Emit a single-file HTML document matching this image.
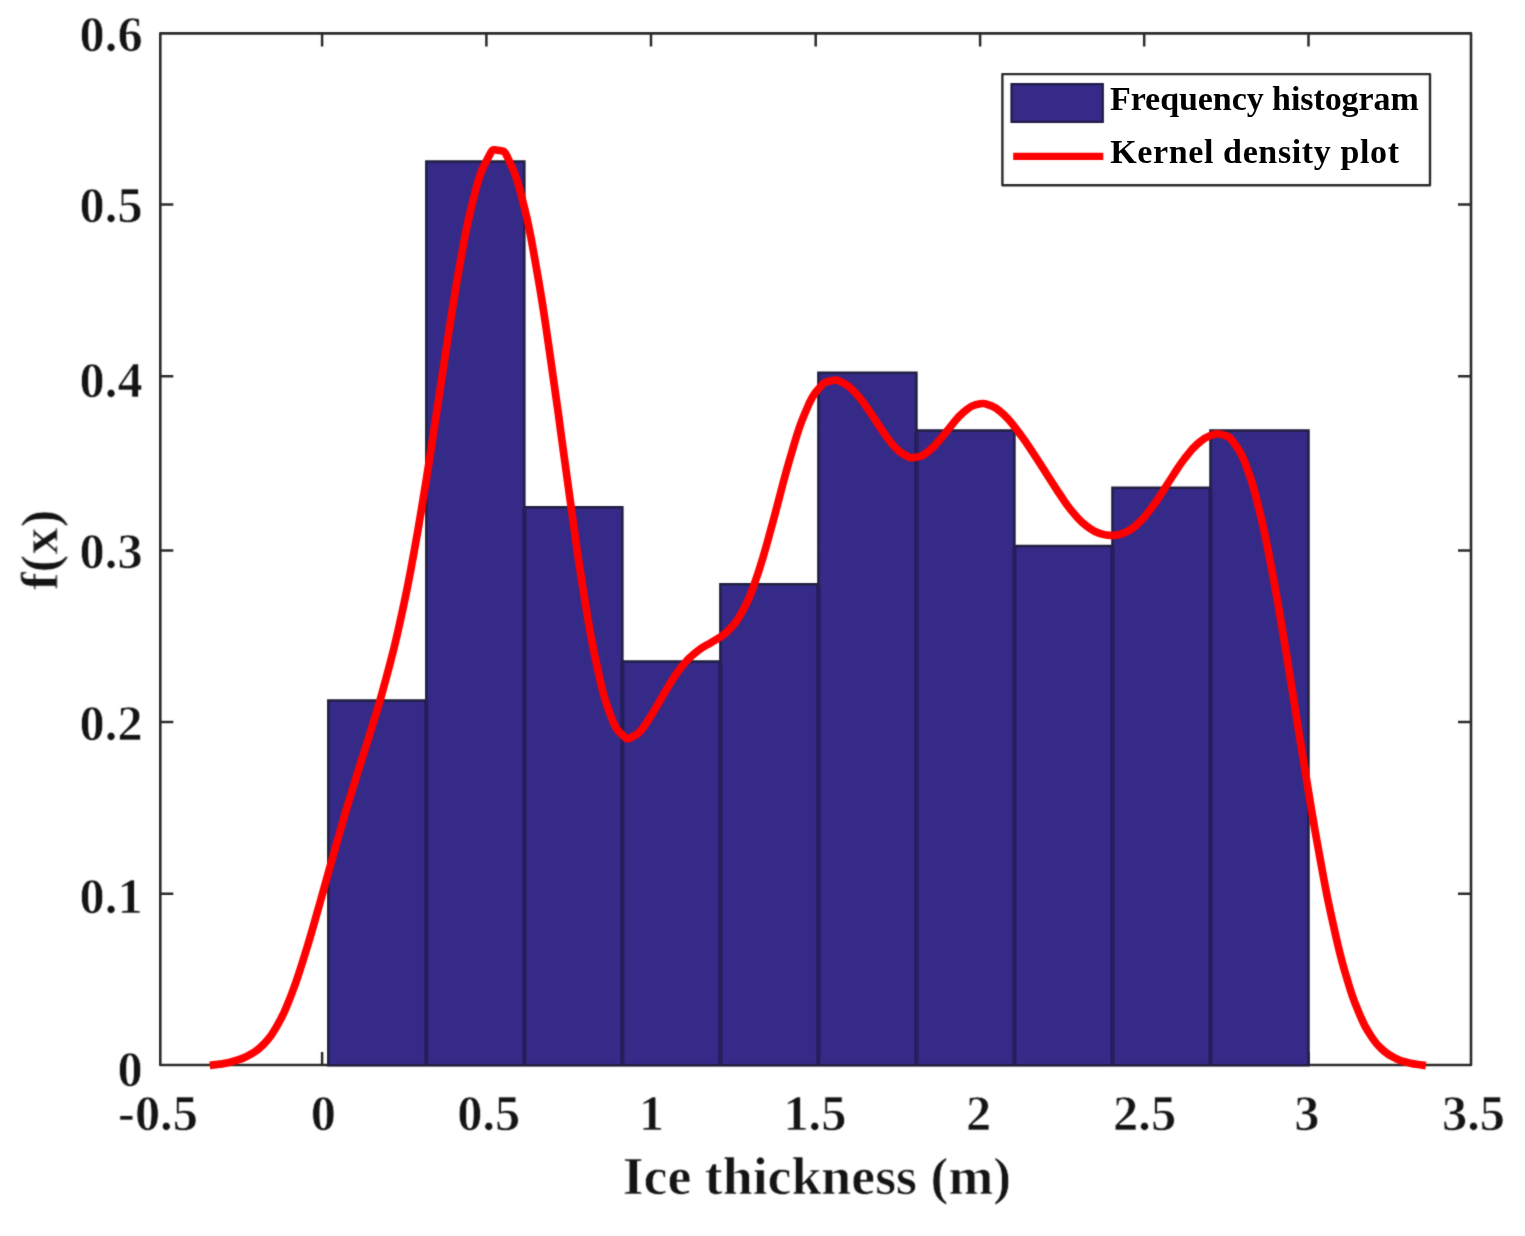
<!DOCTYPE html>
<html lang="en"><head><meta charset="utf-8"><title>Ice thickness: frequency histogram and kernel density plot</title>
<style>html,body{margin:0;padding:0;background:#fff;}body{width:1525px;height:1236px;overflow:hidden;}svg{display:block;}text{font-family:"Liberation Serif","Times New Roman",serif;font-weight:bold;}</style>
</head><body>
<svg width="1525" height="1236" viewBox="0 0 1525 1236" role="img" aria-label="Histogram of ice thickness with kernel density curve">
<defs>
<filter id="soft" x="0" y="0" width="1525" height="1236" filterUnits="userSpaceOnUse" color-interpolation-filters="sRGB"><feConvolveMatrix order="3" kernelMatrix="0.0367 0.1915 0.0367 0.1915 1 0.1915 0.0367 0.1915 0.0367" edgeMode="duplicate" preserveAlpha="false"/></filter>
<filter id="softtext" x="0" y="0" width="1525" height="1236" filterUnits="userSpaceOnUse" color-interpolation-filters="sRGB"><feConvolveMatrix order="3" kernelMatrix="0.1299 0.3604 0.1299 0.3604 1 0.3604 0.1299 0.3604 0.1299" edgeMode="duplicate" preserveAlpha="false"/></filter>
</defs>
<rect x="0" y="0" width="1525" height="1236" fill="#ffffff"/>
<g id="plot" filter="url(#soft)">
<rect x="0" y="0" width="1525" height="1236" fill="#ffffff"/>
<g id="axes" fill="none" stroke="#2b2b2b" stroke-linecap="butt">
<rect x="160.30" y="33.40" width="1310.70" height="1031.60" stroke-width="2.60" stroke-linejoin="round"/>
<path d="M322.10 33.40v13.00M322.10 1065.00v-13.00M486.40 33.40v13.00M486.40 1065.00v-13.00M651.00 33.40v13.00M651.00 1065.00v-13.00M815.70 33.40v13.00M815.70 1065.00v-13.00M980.10 33.40v13.00M980.10 1065.00v-13.00M1144.20 33.40v13.00M1144.20 1065.00v-13.00M1308.50 33.40v13.00M1308.50 1065.00v-13.00M160.30 893.65h13.00M1471.00 893.65h-13.00M160.30 722.10h13.00M1471.00 722.10h-13.00M160.30 550.50h13.00M1471.00 550.50h-13.00M160.30 376.20h13.00M1471.00 376.20h-13.00M160.30 204.60h13.00M1471.00 204.60h-13.00" stroke-width="2.50"/>
</g>
<g id="bars" fill="#352a87" stroke="none">
<rect x="328.10" y="700.50" width="98.42" height="365.30"/>
<rect x="426.12" y="161.40" width="98.42" height="904.40"/>
<rect x="524.14" y="507.20" width="98.42" height="558.60"/>
<rect x="622.16" y="661.60" width="98.42" height="404.20"/>
<rect x="720.18" y="584.30" width="98.42" height="481.50"/>
<rect x="818.20" y="372.70" width="98.42" height="693.10"/>
<rect x="916.22" y="430.60" width="98.42" height="635.20"/>
<rect x="1014.24" y="545.90" width="98.42" height="519.90"/>
<rect x="1112.26" y="487.80" width="98.42" height="578.00"/>
<rect x="1210.28" y="430.60" width="98.42" height="635.20"/>
</g>
<path id="dividers" d="M426.32 701.50V1065.30M524.34 508.20V1065.30M622.36 662.60V1065.30M720.38 662.60V1065.30M818.40 585.30V1065.30M916.42 431.60V1065.30M1014.44 546.90V1065.30M1112.46 546.90V1065.30M1210.48 488.80V1065.30" fill="none" stroke="#000000" stroke-opacity="0.36" stroke-width="3.90"/>
<path id="outline" d="M328.30 1065.20V700.50H426.32V161.40H524.34V507.20H622.36V661.60H720.38V584.30H818.40V372.70H916.42V430.60H1014.44V545.90H1112.46V487.80H1210.48V430.60H1308.50V1065.20H328.30Z" fill="none" stroke="#201f40" stroke-width="2.50" stroke-linejoin="miter"/>
<path id="kde" d="M209.8 1065.3L217.7 1064.4Q222.1 1063.9 226.5 1062.9L229.9 1062.2Q234.4 1061.3 238.8 1059.7L242.2 1058.5Q246.7 1056.9 251.1 1054.1L254.5 1052.0Q258.9 1049.2 263.4 1044.5L266.8 1040.8Q271.2 1036.0 275.6 1028.3L279.1 1022.2Q283.5 1014.5 287.9 1003.3L291.4 994.6Q295.8 983.4 300.2 969.4L303.6 958.6Q308.1 944.6 312.5 929.1L315.9 917.1Q320.4 901.6 324.8 885.6L328.2 873.2Q332.6 857.2 337.1 841.7L340.5 829.7Q344.9 814.2 349.3 799.7L352.8 788.4Q357.2 773.9 361.6 760.0L365.1 749.1Q369.5 735.2 373.9 720.6L377.4 709.3Q381.8 694.7 386.2 678.1L389.6 665.2Q394.1 648.7 398.5 628.9L401.9 613.4Q406.3 593.6 410.8 569.8L414.2 551.2Q418.6 527.4 423.0 499.8L426.5 478.3Q430.9 450.7 435.3 421.1L438.8 398.0Q443.2 368.4 447.6 339.7L451.1 317.4Q455.5 288.7 459.9 264.2L463.3 245.3Q467.8 220.9 472.2 203.7L475.6 190.3Q480.0 173.1 484.5 164.6L490.5 153.1Q492.3 149.5 494.2 149.8L502.8 151.0Q504.6 151.2 506.5 155.2L512.5 168.1Q516.9 177.6 521.3 195.4L524.8 209.3Q529.2 227.1 533.6 252.1L537.0 271.5Q541.5 296.4 545.9 326.5L549.3 349.9Q553.7 380.0 558.2 412.6L561.6 438.0Q566.0 470.6 570.5 502.5L573.9 527.2Q578.3 559.1 582.7 586.8L586.2 608.3Q590.6 636.0 595.0 656.8L598.5 673.0Q602.9 693.8 607.3 706.2L611.1 716.6Q615.2 728.1 619.3 732.0L625.6 737.9Q627.5 739.6 629.3 738.5L635.5 735.1Q639.7 732.7 644.0 726.5L647.6 721.2Q652.0 714.7 656.4 706.9L659.9 700.8Q664.3 692.9 668.7 685.7L672.2 680.1Q676.6 672.9 681.0 667.5L684.4 663.3Q688.9 657.9 693.3 654.4L696.7 651.7Q701.2 648.1 705.6 645.7L709.0 643.8Q713.4 641.4 717.9 638.6L721.3 636.4Q725.7 633.6 730.1 628.6L733.6 624.8Q738.0 619.9 742.4 611.3L745.9 604.6Q750.3 595.9 754.7 582.9L758.2 572.8Q762.6 559.7 767.0 543.6L770.4 531.0Q774.9 514.8 779.3 497.8L782.7 484.6Q787.1 467.7 791.6 452.8L795.0 441.3Q799.4 426.4 803.8 415.9L807.3 407.7Q811.7 397.2 816.1 391.8L821.3 385.6Q824.0 382.3 826.7 381.7L833.6 380.2Q836.3 379.6 839.0 380.9L844.1 383.4Q848.6 385.6 853.0 390.3L856.4 394.0Q860.8 398.7 865.3 405.1L868.7 410.1Q873.1 416.5 877.5 423.4L881.0 428.7Q885.4 435.6 889.8 441.1L893.3 445.4Q897.7 450.9 902.1 453.4L907.2 456.3Q910.0 457.9 912.8 457.6L918.7 456.8Q922.3 456.3 925.9 453.3L930.1 449.9Q934.5 446.3 939.0 440.8L942.4 436.6Q946.8 431.1 951.3 425.6L954.7 421.3Q959.1 415.9 963.5 412.2L967.2 409.2Q971.4 405.8 975.6 404.8L980.3 403.8Q983.7 403.0 987.1 404.3L991.5 405.9Q996.0 407.6 1000.4 411.6L1003.8 414.7Q1008.2 418.7 1012.7 424.4L1016.1 428.8Q1020.5 434.4 1025.0 440.9L1028.4 445.9Q1032.8 452.4 1037.2 459.3L1040.7 464.6Q1045.1 471.5 1049.5 478.5L1053.0 483.9Q1057.4 490.9 1061.8 497.3L1065.2 502.3Q1069.7 508.8 1074.1 513.8L1077.5 517.7Q1082.0 522.7 1086.4 525.9L1089.8 528.4Q1094.2 531.6 1098.7 533.0L1102.1 534.1Q1106.5 535.5 1110.9 535.4L1114.4 535.3Q1118.8 535.1 1123.2 533.2L1126.7 531.7Q1131.1 529.8 1135.5 525.8L1138.9 522.7Q1143.4 518.7 1147.8 512.8L1151.2 508.3Q1155.7 502.5 1160.1 495.6L1163.5 490.2Q1167.9 483.3 1172.4 476.5L1175.8 471.1Q1180.2 464.3 1184.6 458.5L1188.1 454.1Q1192.5 448.4 1196.9 444.5L1200.4 441.5Q1204.8 437.7 1209.2 436.1L1214.0 434.4Q1217.1 433.3 1220.1 434.1L1226.6 436.0Q1229.4 436.8 1232.2 440.5L1237.2 447.4Q1241.6 453.3 1246.1 465.6L1249.5 475.1Q1253.9 487.4 1258.3 506.1L1261.8 520.7Q1266.2 539.5 1270.6 563.4L1274.1 582.0Q1278.5 605.9 1282.9 632.9L1286.4 653.9Q1290.8 680.9 1295.2 708.8L1298.6 730.6Q1303.1 758.5 1307.5 785.3L1310.9 806.2Q1315.3 833.1 1319.8 857.0L1323.2 875.6Q1327.6 899.6 1332.1 919.3L1335.5 934.7Q1339.9 954.5 1344.3 969.6L1347.8 981.4Q1352.2 996.5 1356.6 1007.1L1360.1 1015.4Q1364.5 1026.0 1368.9 1032.7L1372.3 1038.0Q1376.8 1044.7 1381.2 1048.5L1384.6 1051.5Q1389.0 1055.3 1393.5 1057.3L1396.9 1058.9Q1401.3 1060.9 1405.8 1062.0L1409.2 1062.9Q1413.6 1063.9 1418.0 1064.5L1425.9 1065.6" fill="none" stroke="#ff0000" stroke-width="7.70" stroke-linejoin="round" stroke-linecap="butt"/>
<g id="legend">
<rect x="1002.4" y="74.1" width="427.6" height="111.2" fill="#ffffff" stroke="#2b2b2b" stroke-width="2.4" stroke-linejoin="round"/>
<rect x="1011.5" y="84.1" width="91.3" height="37.8" fill="#352a87" stroke="#1f1b45" stroke-width="2.2"/>
<line x1="1013.2" y1="156.4" x2="1103.3" y2="156.4" stroke="#ff0000" stroke-width="7.3"/>
</g>
</g>
<g id="labels" filter="url(#softtext)">
<g id="ticklabels" fill="#141414" font-size="50.40px" stroke="#ffffff" stroke-width="0.70" stroke-linejoin="round">
<text x="142.60" y="50.80" text-anchor="end">0.6</text>
<text x="142.60" y="222.10" text-anchor="end">0.5</text>
<text x="142.60" y="396.50" text-anchor="end">0.4</text>
<text x="142.60" y="567.80" text-anchor="end">0.3</text>
<text x="142.60" y="739.90" text-anchor="end">0.2</text>
<text x="142.60" y="913.30" text-anchor="end">0.1</text>
<text x="142.60" y="1086.10" text-anchor="end">0</text>
<text x="158.00" y="1129.60" text-anchor="middle">-0.5</text>
<text x="323.40" y="1129.60" text-anchor="middle">0</text>
<text x="488.70" y="1129.60" text-anchor="middle">0.5</text>
<text x="651.50" y="1129.60" text-anchor="middle">1</text>
<text x="814.90" y="1129.60" text-anchor="middle">1.5</text>
<text x="978.60" y="1129.60" text-anchor="middle">2</text>
<text x="1144.60" y="1129.60" text-anchor="middle">2.5</text>
<text x="1306.90" y="1129.60" text-anchor="middle">3</text>
<text x="1473.50" y="1129.60" text-anchor="middle">3.5</text>
</g>
<g id="axislabels" fill="#141414" font-size="53.80px" stroke="#ffffff" stroke-width="0.70" stroke-linejoin="round">
<text x="816.90" y="1193.60" text-anchor="middle">Ice thickness (m)</text>
<text transform="translate(57.30 550.00) rotate(-90)" text-anchor="middle">f(x)</text>
</g>
</g>
<g id="legendtext" fill="#000000" font-size="34.0px">
<text x="1110.0" y="110.1" textLength="308.8" lengthAdjust="spacing">Frequency histogram</text>
<text x="1110.2" y="163.1" textLength="288.8" lengthAdjust="spacing">Kernel density plot</text>
</g>
</svg></body></html>
